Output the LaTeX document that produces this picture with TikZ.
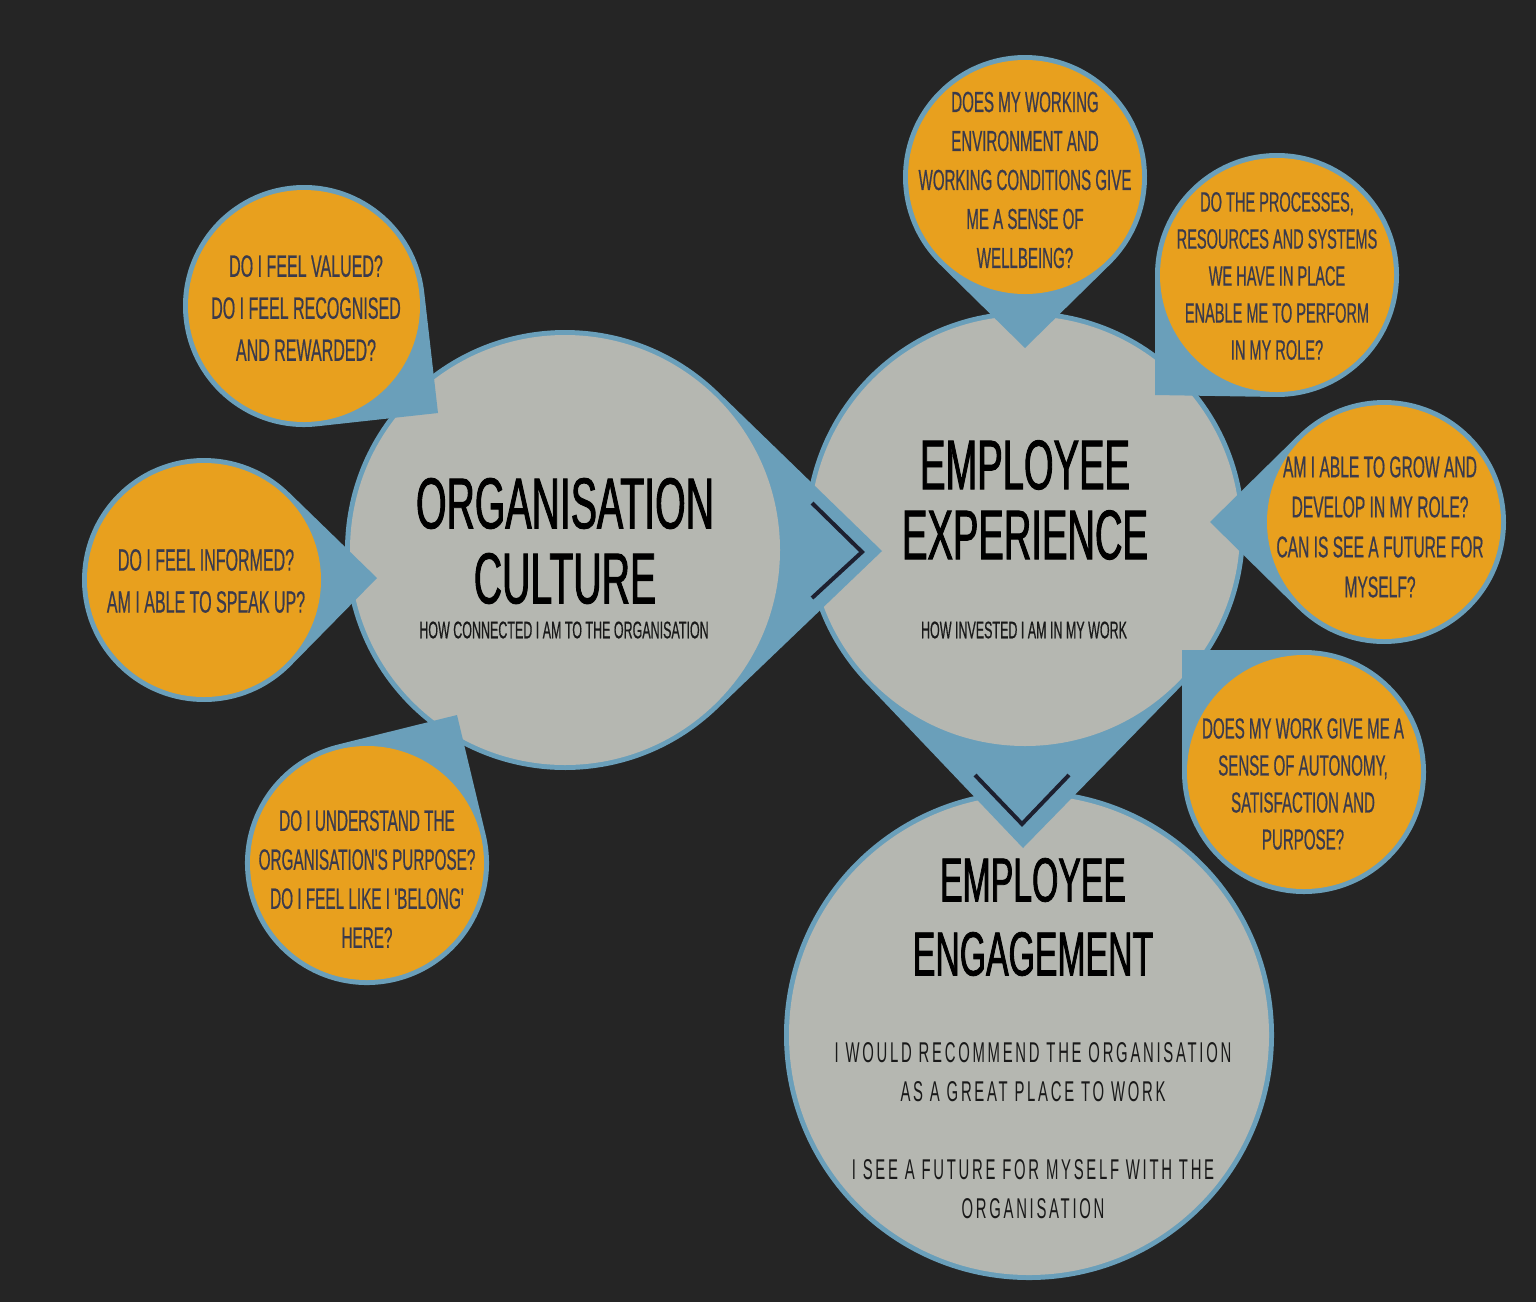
\documentclass[tikz,border=0pt]{standalone}
\usepackage{fontspec}
\newfontfamily\bebas[FakeStretch=0.52,FakeBold=0.5]{Liberation Sans}
\newfontfamily\bebastitle[FakeStretch=0.545,FakeBold=1.3]{Liberation Sans}
\newfontfamily\bebaswide[FakeStretch=0.52,LetterSpace=9.5]{Liberation Sans}
\usetikzlibrary{calc}

\definecolor{bg}{HTML}{252525}
\definecolor{ring}{HTML}{6A9FBA}
\definecolor{disc}{HTML}{B5B7B1}
\definecolor{amber}{HTML}{E8A01E}
\definecolor{ink}{HTML}{3A3A4C}
\definecolor{navy}{HTML}{1D2030}

% speech bubble: name, centre x, centre y, radius, tip x, tip y, fill
\newcommand\bubble[7]{%
  \pgfmathsetmacro\bdx{#5-#2}
  \pgfmathsetmacro\bdy{#6-#3}
  \pgfmathsetmacro\bth{atan2(\bdy,\bdx)}
  \pgfmathsetmacro\bal{acos(#4/veclen(\bdx,\bdy))}
  \pgfmathsetmacro\bin{#4-5}
  \coordinate (#1) at (#2,#3);
  \coordinate (#1 tip) at (#5,#6);
  \fill[ring] (#1 tip) -- ($(#1)+(\bth+\bal:#4)$)
    arc[start angle=\bth+\bal, end angle=\bth-\bal+360, radius=#4] -- cycle;
  \fill[#7] (#1) circle[radius=\bin];
}

\begin{document}
\begin{tikzpicture}[x=0.5pt, y=-0.5pt,
  ask/.style 2 args={align=center, inner sep=0pt, text=ink, font=\bebas\fontsize{#1}{#2}\selectfont},
  headline/.style 2 args={align=center, inner sep=0pt, text=black, font=\bebastitle\fontsize{#1}{#2}\selectfont},
  subline/.style={inner sep=0pt, text=black!90, font=\bebas\fontsize{12}{14}\selectfont},
  chev/.style={draw=navy, line width=2pt}]

\fill[bg] (0,0) rectangle (1536,1302);

% big circles
\coordinate (engage) at (1029,1035);
\fill[ring] (engage) circle[radius=245];
\fill[disc] (engage) circle[radius=240];
\bubble{exper}{1025}{531}{220}{1023}{848}{disc}
\bubble{culture}{565}{550}{220}{882}{551}{disc}

\draw[chev] (812,503) -- (862,552) -- (812,598);
\draw[chev] (975,775) -- (1022,824) -- (1069,775);

% questions round the culture
\bubble{valued}{304}{306}{121}{438}{413}{amber}
\bubble{informed}{204}{580}{122}{377}{578}{amber}
\bubble{purpose}{367}{863}{122}{457}{715}{amber}

% questions round the experience
\bubble{wellbeing}{1025}{177}{122}{1025}{348}{amber}
\bubble{systems}{1277}{275}{122}{1155}{395}{amber}
\bubble{grow}{1384}{522}{122}{1210}{522}{amber}
\bubble{autonomy}{1304}{772}{122}{1182}{650}{amber}

% texts
\node[headline={36}{37.5}] (cultureT) at (565,541) {ORGANISATION\\CULTURE};
\node[subline] (cultureS) at (564,630) {HOW CONNECTED I AM TO THE ORGANISATION};

\node[headline={35}{35}] (experT) at (1025,500) {EMPLOYEE\\EXPERIENCE};
\node[subline] (experS) at (1024,630) {HOW INVESTED I AM IN MY WORK};

\node[headline={31}{37}] (engageT) at (1033,917) {EMPLOYEE\\ENGAGEMENT};
\node[align=center, inner sep=0pt, text=black!90, font=\bebaswide\fontsize{14.3}{19.5}\selectfont] (engageS) at (1033,1131)
  {I WOULD RECOMMEND THE ORGANISATION\\AS A GREAT PLACE TO WORK\\[19.5pt]I SEE A FUTURE FOR MYSELF WITH THE\\ORGANISATION};

\node[ask={15.4}{21}] (valuedT) at (306,308) {DO I FEEL VALUED?\\DO I FEEL RECOGNISED\\AND REWARDED?};
\node[ask={15.4}{21}] (informedT) at (206,581) {DO I FEEL INFORMED?\\AM I ABLE TO SPEAK UP?};
\node[ask={14.7}{19.5}] (purposeT) at (367,879) {DO I UNDERSTAND THE\\ORGANISATION'S PURPOSE?\\DO I FEEL LIKE I 'BELONG'\\HERE?};

\node[ask={14.5}{19.5}] (wellbeingT) at (1025,180) {DOES MY WORKING\\ENVIRONMENT AND\\WORKING CONDITIONS GIVE\\ME A SENSE OF\\WELLBEING?};
\node[ask={14}{18.5}] (systemsT) at (1277,276) {DO THE PROCESSES,\\RESOURCES AND SYSTEMS\\WE HAVE IN PLACE\\ENABLE ME TO PERFORM\\IN MY ROLE?};
\node[ask={15}{20}] (growT) at (1380,527) {AM I ABLE TO GROW AND\\DEVELOP IN MY ROLE?\\CAN IS SEE A FUTURE FOR\\MYSELF?};
\node[ask={14.5}{18.5}] (autonomyT) at (1303,784) {DOES MY WORK GIVE ME A\\SENSE OF AUTONOMY,\\SATISFACTION AND\\PURPOSE?};

\end{tikzpicture}
\end{document}
